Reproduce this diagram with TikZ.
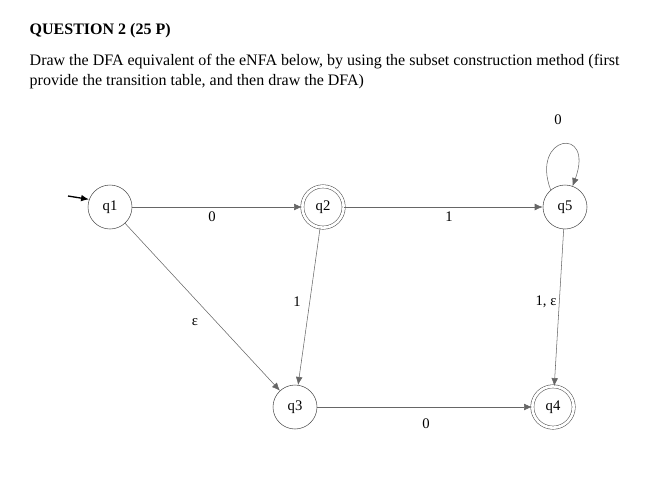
\documentclass[tikz,border=0pt]{standalone}
\usepackage{fontspec}
\setmainfont{Liberation Serif}
\usetikzlibrary{arrows.meta}
\begin{document}
\begin{tikzpicture}[x=0.75pt,y=-0.75pt,
  st/.style={circle,draw=black!70,minimum size=33pt,inner sep=0pt,font=\fontsize{11}{13}\selectfont},
  acc/.style={st,minimum size=31pt,double=white,double distance=2pt},
  tr/.style={draw=black!60,-{Latex[length=6pt,width=5pt]}},
  lb/.style={font=\fontsize{11}{13}\selectfont}]
\useasboundingbox (0,0) rectangle (666,490);
\node[anchor=west,font=\bfseries\fontsize{12}{14}\selectfont] (t) at (25,31) {QUESTION 2 (25 P)};
\node[anchor=west,font=\fontsize{12}{14}\selectfont] (l1) at (25,62) {Draw the DFA equivalent of the eNFA below, by using the subset construction method (first};
\node[anchor=west,font=\fontsize{12}{14}\selectfont] (l2) at (25,82) {provide the transition table, and then draw the DFA)};
\node[st] (q1) at (110,207) {q1};
\node[acc] (q2) at (323,207) {q2};
\node[st] (q5) at (565,207) {q5};
\node[st] (q3) at (295,407) {q3};
\node[acc] (q4) at (553,407) {q4};
\coordinate (s) at (68,196);
\draw[tr,draw=black,line width=1pt] (s) -- (q1.160);
\draw[tr] (q1) -- (q2);
\draw[tr] (q2) -- (q5);
\draw[tr] (q1) -- (q3);
\draw[tr] (q2) -- (q3);
\draw[tr] (q5) -- (q4);
\draw[tr] (q3) -- (q4);
\draw[tr] (q5.130) .. controls (530,135) and (595,125) .. (q5.70);
\node[lb] (l0) at (558,120) {0};
\node[lb] (la) at (212,217) {0};
\node[lb] (l1b) at (449,217) {1};
\node[lb] (lb1) at (297,302) {1};
\node[lb] (le) at (195,322) {ε};
\node[lb] (lf) at (546,302) {1, ε};
\node[lb] (lg) at (426,424) {0};
\end{tikzpicture}
\end{document}
